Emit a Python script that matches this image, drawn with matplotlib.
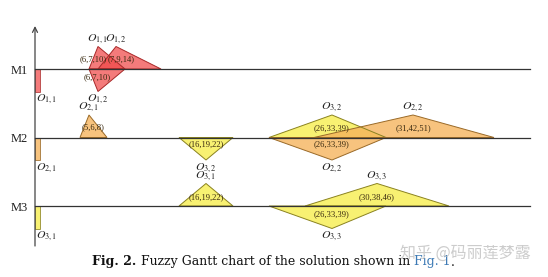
import matplotlib
matplotlib.use("Agg")
import matplotlib.pyplot as plt
from matplotlib.patches import Polygon, Rectangle

# ---------------- data ----------------
machines = ["M1", "M2", "M3"]
machine_rows = [3, 2, 1]

bar_rows = [3, 2, 1]
bar_jobs = [1, 2, 3]
bar_ops = [r"$O_{1,1}$", r"$O_{2,1}$", r"$O_{3,1}$"]

tri_rows = [3, 3, 3, 2, 2, 2, 2, 2, 1, 1, 1]
tri_fuzzy = [(6, 7, 10), (7, 9, 14), (6, 7, 10), (5, 6, 8), (16, 19, 22),
             (26, 33, 39), (26, 33, 39), (31, 42, 51), (16, 19, 22),
             (26, 33, 39), (30, 38, 46)]
tri_side = [1, 1, -1, 1, -1, 1, -1, 1, 1, -1, 1]
tri_jobs = [1, 1, 1, 2, 3, 3, 2, 2, 3, 3, 3]
tri_ops = [r"$O_{1,1}$", r"$O_{1,2}$", r"$O_{1,2}$", r"$O_{2,1}$", r"$O_{3,2}$",
           r"$O_{3,2}$", r"$O_{2,2}$", r"$O_{2,2}$", r"$O_{3,1}$", r"$O_{3,3}$",
           r"$O_{3,3}$"]

caption_bold = "Fig. 2."
caption_main = "Fuzzy Gantt chart of the solution shown in"
caption_link = "Fig. 1"
watermark = "知乎 @码丽莲梦露"

# ---------------- styles ----------------
job_face = {1: "#f04848", 2: "#f5b25a", 3: "#f7ee4a"}
job_edge = {1: "#a82828", 2: "#9a6a28", 3: "#8a8220"}
job_alpha = {1: 0.72, 2: 0.78, 3: 0.78}
# label offsets in pixels (style only)
param_dx_px = [-5, 5, -1, 4, 0, 0, 0, 0, 0, 0, 0]
param_dy_px = [10, 10, -8, 10, -7, 9, -7, 9, 9, -8, 9]

W, H, DPI = 548, 277, 100
PX_X = 9.0      # pixels per time unit
PX_Y = 68.5     # pixels per row
X0 = 35.0       # pixel of time 0
Y_M3 = 206.0    # pixel (from top) of row 1

plt.rcParams["mathtext.fontset"] = "stix"
plt.rcParams["font.family"] = ["Liberation Serif", "DejaVu Serif"]

fig = plt.figure(figsize=(W / DPI, H / DPI), dpi=DPI)
ax = fig.add_axes([0, 0, 1, 1])
ax.set_xlim(-X0 / PX_X, (W - X0) / PX_X)
ax.set_ylim(1 - (H - Y_M3) / PX_Y, 1 + Y_M3 / PX_Y)
ax.axis("off")

h = 22.5 / PX_Y
dxp = lambda p: p / PX_X
dyp = lambda p: p / PX_Y
xmax = (530 - X0) / PX_X

# y axis with arrow
ax.annotate("", xy=(0, 1 + (Y_M3 - 26) / PX_Y), xytext=(0, 1 + (Y_M3 - 246) / PX_Y),
            arrowprops=dict(arrowstyle="->", color="#444444", lw=0.9,
                            shrinkA=0, shrinkB=0, mutation_scale=9))

# machine lines & labels
for m, r in zip(machines, machine_rows):
    ax.plot([0, xmax], [r, r], color="#333333", lw=0.9, zorder=4)
    ax.text(dxp(-16), r - dyp(2), m, ha="center", va="center", fontsize=9,
            color="#222222")

# start bars
for r, j, lab in zip(bar_rows, bar_jobs, bar_ops):
    ax.add_patch(Rectangle((0, r - h), dxp(4.8), h, facecolor=job_face[j],
                           edgecolor=job_edge[j], lw=0.7, alpha=job_alpha[j],
                           zorder=2))
    ax.text(dxp(1.5), r - h - dyp(1), lab, ha="left", va="top", fontsize=8.5,
            color="#222222")

# fuzzy triangles
for r, (a, b, c), s, j, lab, pdx, pdy in zip(tri_rows, tri_fuzzy, tri_side,
                                              tri_jobs, tri_ops, param_dx_px,
                                              param_dy_px):
    ax.add_patch(Polygon([(a, r), (b, r + s * h), (c, r)], closed=True,
                         facecolor=job_face[j], alpha=job_alpha[j],
                         edgecolor="none", zorder=2))
    ax.add_patch(Polygon([(a, r), (b, r + s * h), (c, r)], closed=True,
                         facecolor="none", edgecolor=job_edge[j], lw=0.7,
                         zorder=3))
    ax.text(b + dxp(pdx), r + dyp(pdy), f"({a},{b},{c})", ha="center",
            va="center", fontsize=6.2, color="#3a2a10", zorder=5)
    if s > 0:
        ax.text(b, r + h + dyp(0.5), lab, ha="center", va="bottom",
                fontsize=8.5, color="#222222", zorder=5)
    else:
        ax.text(b, r - h - dyp(1), lab, ha="center", va="top",
                fontsize=8.5, color="#222222", zorder=5)

# caption
fig.canvas.draw()
rend = fig.canvas.get_renderer()
cy = 1 - 262 / H
FS = 9.0
x = 92 / W
t1 = fig.text(x, cy, caption_bold, fontsize=FS, fontweight="bold",
              family=["DejaVu Serif"], va="center", ha="left", color="#111111")
x = t1.get_window_extent(rend).x1 / W + 5 / W
t2 = fig.text(x, cy, caption_main, fontsize=FS, family=["DejaVu Serif"],
              va="center", ha="left", color="#111111")
x = t2.get_window_extent(rend).x1 / W + 4 / W
t3 = fig.text(x, cy, caption_link, fontsize=FS, family=["DejaVu Serif"],
              va="center", ha="left", color="#3d7ab5")
x = t3.get_window_extent(rend).x1 / W
fig.text(x, cy, ".", fontsize=FS, family=["DejaVu Serif"], va="center",
         ha="left", color="#111111")

# watermark
fig.text(400 / W, 1 - 253 / H, watermark, fontsize=11.5,
         family=["Noto Sans CJK SC", "DejaVu Sans"], va="center", ha="left",
         color="#c4c4c4", alpha=0.85, zorder=10)

fig.savefig("out.png", dpi=DPI)
